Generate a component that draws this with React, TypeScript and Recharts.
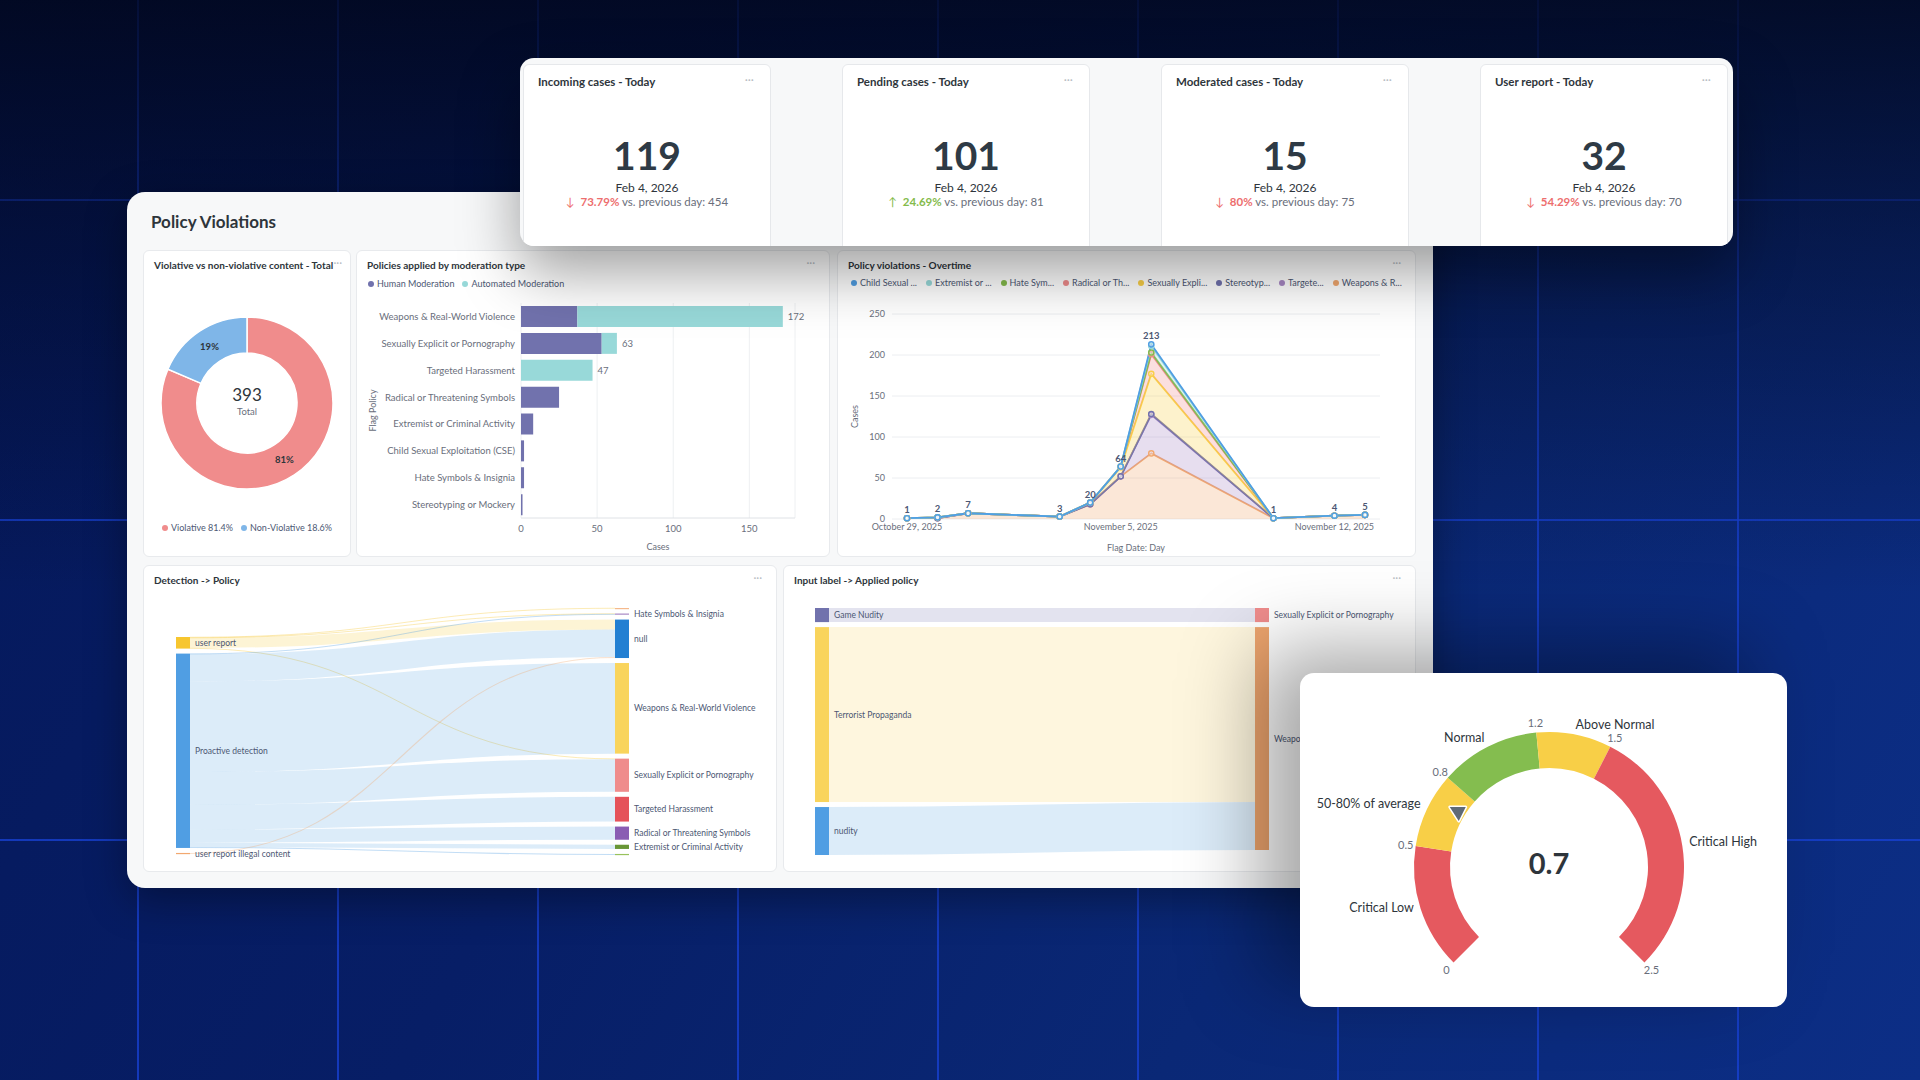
import React from 'react';
import {
  PieChart,
  Pie,
  Cell,
  BarChart,
  Bar,
  XAxis,
  YAxis,
  CartesianGrid,
  LabelList,
  AreaChart,
  Area,
  Sankey,
} from 'recharts';

const FONT = "Lato, 'Noto Sans', 'DejaVu Sans', sans-serif";
const INK = '#2e353b';
const MUTED = '#696e7b';
const LABEL = '#4c5773';
const NO_MARGIN = { top: 0, right: 0, bottom: 0, left: 0 };

// KPI tiles
const kpiTitles = ['Incoming cases - Today', 'Pending cases - Today', 'Moderated cases - Today', 'User report - Today'];
const kpiToday = [119, 101, 15, 32];
const kpiYesterday = [454, 81, 75, 70];
const kpiDate = 'Feb 4, 2026';

// Violative vs non-violative
const contentTypes = ['Violative', 'Non-Violative'];
const contentCounts = [320, 73];

// Policies by moderation type
const policies = [
  'Weapons & Real-World Violence',
  'Sexually Explicit or Pornography',
  'Targeted Harassment',
  'Radical or Threatening Symbols',
  'Extremist or Criminal Activity',
  'Child Sexual Exploitation (CSE)',
  'Hate Symbols & Insignia',
  'Stereotyping or Mockery',
];
const humanCases = [37, 53, 0, 25, 8, 2, 2, 1];
const automatedCases = [135, 10, 47, 0, 0, 0, 0, 0];
const caseTicks = [0, 50, 100, 150];

// Daily flags per policy
const flagDates = ['2025-10-29', '2025-10-30', '2025-10-31', '2025-11-03', '2025-11-04', '2025-11-05', '2025-11-06', '2025-11-10', '2025-11-12', '2025-11-13'];
const childSexualDaily = [0, 0, 0, 0, 0, 0, 2, 0, 0, 0];
const extremistDaily = [0, 0, 0, 0, 0, 0, 8, 0, 0, 0];
const hateDaily = [0, 0, 0, 0, 0, 0, 2, 0, 0, 0];
const radicalDaily = [0, 0, 0, 0, 0, 1, 24, 0, 0, 0];
const sexualDaily = [0, 1, 0, 0, 2, 11, 49, 0, 0, 0];
const stereotypingDaily = [0, 0, 0, 0, 0, 0, 1, 0, 0, 0];
const targetedDaily = [0, 0, 0, 0, 0, 0, 47, 0, 0, 0];
const weaponsDaily = [1, 1, 7, 3, 18, 52, 80, 1, 4, 5];
const dateTicks = ['2025-10-29', '2025-11-05', '2025-11-12'];
const caseAxisTicks = [0, 50, 100, 150, 200, 250];

// Detection -> Policy
const detectionSources = ['user report', 'Proactive detection', 'user report illegal content'];
const detectionTargets = [
  'Stereotyping or Mockery',
  'Hate Symbols & Insignia',
  'null',
  'Weapons & Real-World Violence',
  'Sexually Explicit or Pornography',
  'Targeted Harassment',
  'Radical or Threatening Symbols',
  'Extremist or Criminal Activity',
  'Child Sexual Exploitation (CSE)',
];
const detectionFlows = [
  [0, 0, 1], [0, 1, 1], [0, 2, 19], [0, 4, 1],
  [1, 1, 1], [1, 2, 52], [1, 3, 172], [1, 4, 62], [1, 5, 47], [1, 6, 25], [1, 7, 8], [1, 8, 2],
  [2, 2, 2],
];

// Input label -> Applied policy
const inputLabels = ['Game Nudity', 'Terrorist Propaganda', 'nudity'];
const appliedPolicies = ['Sexually Explicit or Pornography', 'Weapons & Real-World Violence'];
const labelFlows = [[0, 0, 5], [1, 1, 62], [2, 1, 17]];

// Gauge
const gaugeBands = ['Critical Low', '50-80% of average', 'Normal', 'Above Normal', 'Critical High'];
const gaugeStops = [0, 0.5, 0.8, 1.2, 1.5, 2.5];
const gaugeValue = 0.7;

// colours
const contentColors = ['#f08c8c', '#7fb6e8'];
const HUMAN = '#7172ad';
const AUTO = '#98d9d9';
const seriesColors: Record<string, string> = {
  child: '#509ee3',
  extremist: '#98d9d9',
  hate: '#84bb4c',
  radical: '#ef8c8c',
  sexual: '#f9cf48',
  stereotyping: '#7172ad',
  targeted: '#a989c5',
  weapons: '#f2a86f',
};
const nodeColors: Record<string, string> = {
  'user report': '#f7c62f',
  'Proactive detection': '#509ee3',
  'user report illegal content': '#f2a86f',
  'Stereotyping or Mockery': '#f5b98c',
  'Hate Symbols & Insignia': '#a989c5',
  null: '#227fd2',
  'Weapons & Real-World Violence': '#f9d45c',
  'Sexually Explicit or Pornography': '#ef8c8c',
  'Targeted Harassment': '#e5525a',
  'Radical or Threatening Symbols': '#8a5db3',
  'Extremist or Criminal Activity': '#689636',
  'Child Sexual Exploitation (CSE)': '#98c25c',
  'Game Nudity': '#7172ad',
  'Terrorist Propaganda': '#f9d45c',
  nudity: '#509ee3',
};
const appliedColors: Record<string, string> = {
  'Sexually Explicit or Pornography': '#ef8c8c',
  'Weapons & Real-World Violence': '#eea56e',
};
const gaugeColors = ['#e5595f', '#f8cf47', '#84bd4f', '#f8cf47', '#e5595f'];

const RAD = Math.PI / 180;
const polar = (cx: number, cy: number, r: number, deg: number) => ({
  x: cx + r * Math.cos(-deg * RAD),
  y: cy + r * Math.sin(-deg * RAD),
});

const changePct = (today: number, prev: number) =>
  `${parseFloat(Math.abs(((today - prev) / prev) * 100).toFixed(2))}%`;

// ---------- KPI strip ----------
function KpiCard({ title, today, prev }: any) {
  const up = today >= prev;
  const tone = up ? '#84bb4c' : '#ed6e6e';
  const line: React.CSSProperties = { position: 'absolute', left: 0, right: 0, textAlign: 'center' };
  return (
    <div
      style={{
        position: 'relative',
        width: 248,
        height: 190,
        flexShrink: 0,
        background: '#fff',
        border: '1px solid #e6e8eb',
        borderRadius: 6,
        boxSizing: 'border-box',
      }}
    >
      <div style={{ position: 'absolute', left: 14, top: 9, fontSize: 11.5, fontWeight: 700, color: INK, lineHeight: '16px' }}>
        {title}
      </div>
      <div style={{ position: 'absolute', right: 16, top: 7, fontSize: 12, color: '#b8bcc3', lineHeight: '16px' }}>···</div>
      <div style={{ ...line, top: 67, fontSize: 39, fontWeight: 700, color: '#2e3a45', lineHeight: '46px' }}>{today}</div>
      <div style={{ ...line, top: 115, fontSize: 12, color: INK, lineHeight: '16px' }}>{kpiDate}</div>
      <div style={{ ...line, top: 129, fontSize: 11.5, lineHeight: '16px', color: MUTED }}>
        <span style={{ color: tone, marginRight: 6 }}>{up ? '↑' : '↓'}</span>
        <span style={{ color: tone, fontWeight: 700 }}>{changePct(today, prev)}</span> vs. previous day: {prev}
      </div>
    </div>
  );
}

function KpiStrip() {
  return (
    <div
      style={{
        position: 'absolute',
        left: 520,
        top: 58,
        width: 1213,
        height: 188,
        background: '#f7f8f9',
        borderRadius: 14,
        overflow: 'hidden',
        boxShadow: '0 26px 60px rgba(0,0,0,0.38)',
        display: 'flex',
        gap: 71,
        paddingLeft: 3,
        paddingTop: 6,
        boxSizing: 'border-box',
      }}
    >
      {kpiTitles.map((t, i) => (
        <KpiCard key={t} title={t} today={kpiToday[i]} prev={kpiYesterday[i]} />
      ))}
    </div>
  );
}

// ---------- shared bits ----------
function Panel({ left, top, width, height, title, dotsRight = 14, children }: any) {
  return (
    <div
      style={{
        position: 'absolute',
        left,
        top,
        width,
        height,
        background: '#fff',
        border: '1px solid #e8eaed',
        borderRadius: 6,
        boxSizing: 'border-box',
        overflow: 'hidden',
      }}
    >
      <div style={{ position: 'absolute', left: 10, top: 7, fontSize: 10, fontWeight: 700, color: INK, lineHeight: '14px', whiteSpace: 'nowrap' }}>
        {title}
      </div>
      <div style={{ position: 'absolute', right: dotsRight, top: 5, fontSize: 11, color: '#b8bcc3', lineHeight: '14px' }}>···</div>
      {children}
    </div>
  );
}

function LegendRow({ items, style, fontSize = 9.5, gap = 9 }: any) {
  return (
    <div style={{ position: 'absolute', display: 'flex', alignItems: 'center', gap, fontSize, color: LABEL, whiteSpace: 'nowrap', ...style }}>
      {items.map((it: any) => (
        <span key={it.label} style={{ display: 'flex', alignItems: 'center', gap: 3 }}>
          <span style={{ width: 6, height: 6, borderRadius: 3, background: it.color, display: 'inline-block' }} />
          {it.label}
        </span>
      ))}
    </div>
  );
}

// ---------- donut ----------
const donutData = contentTypes.map((name, i) => ({ name, value: contentCounts[i] }));
const contentTotal = contentCounts.reduce((a, b) => a + b, 0);

const renderDonutLabel = (p: any) => {
  const r = (p.innerRadius + p.outerRadius) / 2;
  const pt = polar(p.cx, p.cy, r, p.midAngle);
  return (
    <text x={pt.x} y={pt.y} textAnchor="middle" dominantBaseline="central" fontSize={9.5} fontWeight={700} fill={INK}>
      {Math.round(p.percent * 100)}%
    </text>
  );
};

function DonutPanel() {
  return (
    <Panel left={16} top={58} width={208} height={307} title="Violative vs non-violative content - Total" dotsRight={8}>
      <div style={{ position: 'absolute', left: 0, top: 29 }}>
        <PieChart width={208} height={240} margin={NO_MARGIN}>
          <Pie
            data={donutData}
            dataKey="value"
            cx={103}
            cy={123}
            innerRadius={50}
            outerRadius={86}
            startAngle={90}
            endAngle={-270}
            stroke="#fff"
            strokeWidth={1.5}
            labelLine={false}
            label={renderDonutLabel}
            isAnimationActive={false}
          >
            {donutData.map((d, i) => (
              <Cell key={d.name} fill={contentColors[i]} />
            ))}
          </Pie>
        </PieChart>
      </div>
      <div style={{ position: 'absolute', left: 0, width: 206, top: 134, textAlign: 'center', fontSize: 17, color: INK, lineHeight: '20px' }}>
        {contentTotal}
      </div>
      <div style={{ position: 'absolute', left: 0, width: 206, top: 155, textAlign: 'center', fontSize: 9.5, color: MUTED, lineHeight: '12px' }}>
        Total
      </div>
      <LegendRow
        style={{ left: 0, right: 0, top: 271, justifyContent: 'center' }}
        fontSize={9}
        gap={8}
        items={contentTypes.map((t, i) => ({
          label: `${t} ${((contentCounts[i] / contentTotal) * 100).toFixed(1)}%`,
          color: contentColors[i],
        }))}
      />
    </Panel>
  );
}

// ---------- bars ----------
const policyRows = policies.map((policy, i) => ({
  policy,
  human: humanCases[i],
  automated: automatedCases[i],
  total: humanCases[i] + automatedCases[i],
}));

// single-line category ticks (the default tick wraps long names)
const renderPolicyTick = (p: any) => (
  <text x={p.x} y={p.y} textAnchor="end" dominantBaseline="central" fontSize={9.5} fill={MUTED}>
    {p.payload.value}
  </text>
);

function BarPanel() {
  const tick = { fontSize: 9.5, fill: MUTED };
  return (
    <Panel left={229} top={58} width={474} height={307} title="Policies applied by moderation type">
      <LegendRow
        style={{ left: 11, top: 27 }}
        fontSize={9}
        gap={8}
        items={[
          { label: 'Human Moderation', color: HUMAN },
          { label: 'Automated Moderation', color: AUTO },
        ]}
      />
      <div style={{ position: 'absolute', left: 0, top: 44 }}>
        <BarChart layout="vertical" width={474} height={259} data={policyRows} margin={{ top: 8, right: 36, left: 0, bottom: 0 }} barSize={21}>
          <CartesianGrid horizontal={false} stroke="#eef0f2" />
          <XAxis
            type="number"
            domain={[0, 180]}
            ticks={caseTicks}
            tickLine={false}
            axisLine={{ stroke: '#dfe2e6' }}
            tickSize={0}
            tickMargin={7}
            height={36}
            tick={tick}
            label={{ value: 'Cases', position: 'insideBottom', offset: 4, fontSize: 9, fill: MUTED }}
          />
          <YAxis
            type="category"
            dataKey="policy"
            width={164}
            interval={0}
            tickLine={false}
            axisLine={false}
            tickSize={0}
            tickMargin={6}
            tick={renderPolicyTick}
            label={{ value: 'Flag Policy', angle: -90, position: 'insideLeft', offset: 16, fontSize: 9, fill: MUTED, style: { textAnchor: 'middle' } }}
          />
          <Bar dataKey="human" stackId="mod" fill={HUMAN} isAnimationActive={false} />
          <Bar dataKey="automated" stackId="mod" fill={AUTO} isAnimationActive={false}>
            <LabelList dataKey="total" position="right" offset={5} fontSize={9.5} fill={MUTED} />
          </Bar>
        </BarChart>
      </div>
    </Panel>
  );
}

// ---------- stacked area ----------
const DAY_MS = 86400000;
const dayOf = (iso: string) => Math.round((Date.parse(iso) - Date.parse(flagDates[0])) / DAY_MS);
const dateLabel = (day: number) =>
  new Date(Date.parse(flagDates[0]) + day * DAY_MS).toLocaleDateString('en-US', {
    month: 'long',
    day: 'numeric',
    year: 'numeric',
    timeZone: 'UTC',
  });

// legend order; stacking goes the other way round
const violationSeries = [
  { key: 'child', legend: 'Child Sexual ...', values: childSexualDaily },
  { key: 'extremist', legend: 'Extremist or ...', values: extremistDaily },
  { key: 'hate', legend: 'Hate Sym...', values: hateDaily },
  { key: 'radical', legend: 'Radical or Th...', values: radicalDaily },
  { key: 'sexual', legend: 'Sexually Expli...', values: sexualDaily },
  { key: 'stereotyping', legend: 'Stereotyp...', values: stereotypingDaily },
  { key: 'targeted', legend: 'Targete...', values: targetedDaily },
  { key: 'weapons', legend: 'Weapons & R...', values: weaponsDaily },
];
const stackOrder = [...violationSeries].reverse();

const timeline = flagDates.map((d, i) => {
  const row: any = { day: dayOf(d), total: 0 };
  violationSeries.forEach((s) => {
    row[s.key] = s.values[i];
    row.total += s.values[i];
  });
  return row;
});

function AreaPanel() {
  const tick = { fontSize: 9, fill: MUTED };
  const lastDay = dayOf(flagDates[flagDates.length - 1]);
  return (
    <Panel left={710} top={58} width={579} height={307} title="Policy violations - Overtime">
      <LegendRow
        style={{ left: 13, top: 26 }}
        fontSize={9}
        gap={9}
        items={violationSeries.map((s) => ({ label: s.legend, color: seriesColors[s.key] }))}
      />
      <div style={{ position: 'absolute', left: 0, top: 49 }}>
        <AreaChart width={579} height={255} data={timeline} margin={{ top: 14, right: 37, left: 0, bottom: 0 }}>
          <CartesianGrid vertical={false} stroke="#eceef1" />
          <XAxis
            type="number"
            dataKey="day"
            domain={[0, lastDay]}
            ticks={dateTicks.map(dayOf)}
            tickFormatter={dateLabel}
            padding={{ left: 15, right: 15 }}
            axisLine={false}
            tickLine={false}
            tickSize={0}
            tickMargin={5}
            height={36}
            tick={tick}
            label={{ value: 'Flag Date: Day', position: 'insideBottom', offset: 4, fontSize: 9, fill: MUTED }}
          />
          <YAxis
            domain={[0, 250]}
            ticks={caseAxisTicks}
            width={54}
            axisLine={false}
            tickLine={false}
            tickSize={0}
            tickMargin={7}
            tick={tick}
            label={{ value: 'Cases', angle: -90, position: 'insideLeft', offset: 17, fontSize: 9, fill: MUTED, style: { textAnchor: 'middle' } }}
          />
          {stackOrder.map((s, i) => (
            <Area
              key={s.key}
              dataKey={s.key}
              stackId="flags"
              type="linear"
              stroke={seriesColors[s.key]}
              strokeWidth={1.8}
              fill={seriesColors[s.key]}
              fillOpacity={0.28}
              dot={{ r: 2.6, fill: '#fff', stroke: seriesColors[s.key], strokeWidth: 1.4 }}
              activeDot={false}
              isAnimationActive={false}
            >
              {i === stackOrder.length - 1 && (
                <LabelList dataKey="total" position="top" offset={5} fontSize={9.5} fontWeight={700} fill={LABEL} />
              )}
            </Area>
          ))}
        </AreaChart>
      </div>
    </Panel>
  );
}

// ---------- sankeys ----------
function FlowChart({ sources, targets, flows, width, margin, shift = 0, hidden = [], targetColors = {} }: any) {
  const data = {
    nodes: [...sources, ...targets].map((name: string) => ({ name })),
    links: flows.map(([s, t, v]: number[]) => ({ source: s, target: sources.length + t, value: v })),
  };
  const colourOf = (name: string, depth: number) => (depth > 0 && targetColors[name]) || nodeColors[name];

  const renderNode = (p: any) => {
    const { x, y, width: w, height: h, payload } = p;
    const dy = payload.depth === 0 ? shift : 0;
    const hh = Math.max(h, 1.2);
    return (
      <g>
        <rect x={x} y={y + dy} width={w} height={hh} fill={colourOf(payload.name, payload.depth)} />
        {!hidden.includes(payload.name) && (
          <text x={x + w + 5} y={y + dy + hh / 2} dominantBaseline="central" fontSize={8.5} fill={LABEL}>
            {payload.name}
          </text>
        )}
      </g>
    );
  };

  const renderLink = (p: any) => {
    const { sourceX, targetX, sourceY, targetY, sourceControlX, targetControlX, linkWidth, payload } = p;
    const sy = sourceY + shift;
    const thin = linkWidth < 1.5;
    return (
      <path
        d={`M${sourceX},${sy} C${sourceControlX},${sy} ${targetControlX},${targetY} ${targetX},${targetY}`}
        fill="none"
        stroke={nodeColors[payload.source.name]}
        strokeOpacity={thin ? 0.35 : 0.2}
        strokeWidth={Math.max(linkWidth, 1)}
      />
    );
  };

  return (
    <Sankey
      width={width}
      height={307}
      data={data}
      nodeWidth={14}
      nodePadding={5}
      iterations={0}
      sort={false}
      margin={margin}
      node={renderNode}
      link={renderLink}
    />
  );
}

function DetectionPanel() {
  return (
    <Panel left={16} top={373} width={634} height={307} title="Detection -> Policy">
      <div style={{ position: 'absolute', left: 0, top: 0 }}>
        <FlowChart
          sources={detectionSources}
          targets={detectionTargets}
          flows={detectionFlows}
          width={634}
          margin={{ top: 42, right: 149, bottom: 18, left: 32 }}
          shift={29}
          hidden={['Stereotyping or Mockery', 'Child Sexual Exploitation (CSE)']}
        />
      </div>
    </Panel>
  );
}

function InputLabelPanel() {
  return (
    <Panel left={656} top={373} width={633} height={307} title="Input label -> Applied policy">
      <div style={{ position: 'absolute', left: 0, top: 0 }}>
        <FlowChart
          sources={inputLabels}
          targets={appliedPolicies}
          flows={labelFlows}
          width={633}
          margin={{ top: 42, right: 148, bottom: 18, left: 31 }}
          targetColors={appliedColors}
        />
      </div>
    </Panel>
  );
}

function PolicyCard() {
  return (
    <div
      style={{
        position: 'absolute',
        left: 127,
        top: 192,
        width: 1306,
        height: 696,
        background: '#f7f8f9',
        borderRadius: 18,
        boxShadow: '0 12px 40px rgba(0,0,0,0.35)',
      }}
    >
      <div style={{ position: 'absolute', left: 24, top: 19, fontSize: 17, fontWeight: 700, color: INK, lineHeight: '22px' }}>
        Policy Violations
      </div>
      <DonutPanel />
      <BarPanel />
      <AreaPanel />
      <DetectionPanel />
      <InputLabelPanel />
    </div>
  );
}

// ---------- gauge ----------
const gaugeData = gaugeBands.map((name, i) => ({ name, size: gaugeStops[i + 1] - gaugeStops[i] }));
const gaugeMax = gaugeStops[gaugeStops.length - 1];
const pointerData = [{ v: gaugeValue }, { v: gaugeMax - gaugeValue }];

const renderGaugeLabel = (p: any) => {
  const { cx, cy, outerRadius, midAngle, startAngle, endAngle, index } = p;
  const mid = polar(cx, cy, outerRadius + 7, midAngle);
  const anchor = mid.x < cx - 2 ? 'end' : 'start';
  const t0 = polar(cx, cy, outerRadius + 10, startAngle);
  const t1 = polar(cx, cy, outerRadius + 10, endAngle);
  const last = index === gaugeBands.length - 1;
  return (
    <g>
      <text x={mid.x} y={mid.y - 3} textAnchor={anchor} dominantBaseline="central" fontSize={12.5} fill={INK}>
        {gaugeBands[index]}
      </text>
      <text x={t0.x} y={t0.y} textAnchor="middle" dominantBaseline="central" fontSize={11} fill={MUTED}>
        {gaugeStops[index]}
      </text>
      {last && (
        <text x={t1.x} y={t1.y} textAnchor="middle" dominantBaseline="central" fontSize={11} fill={MUTED}>
          {gaugeStops[index + 1]}
        </text>
      )}
    </g>
  );
};

const renderPointer = (p: any) => {
  if (p.index !== 0) return null;
  const c = polar(p.cx, p.cy, 106, p.endAngle);
  const d = `M${c.x - 8},${c.y - 6} L${c.x + 8},${c.y - 6} L${c.x + 1},${c.y + 8} Z`;
  return <path d={d} fill="#5f6a76" stroke="#fff" strokeWidth={3} paintOrder="stroke" strokeLinejoin="round" />;
};

function GaugeCard() {
  return (
    <div
      style={{
        position: 'absolute',
        left: 1300,
        top: 673,
        width: 487,
        height: 334,
        background: '#fff',
        borderRadius: 14,
        boxShadow: '-40px -24px 80px rgba(0,0,0,0.35)',
      }}
    >
      <PieChart width={487} height={334} margin={NO_MARGIN}>
        <Pie
          data={gaugeData}
          dataKey="size"
          cx={249}
          cy={194}
          innerRadius={99}
          outerRadius={135}
          startAngle={225}
          endAngle={-45}
          stroke="none"
          labelLine={false}
          label={renderGaugeLabel}
          isAnimationActive={false}
        >
          {gaugeData.map((d, i) => (
            <Cell key={d.name} fill={gaugeColors[i]} />
          ))}
        </Pie>
        <Pie
          data={pointerData}
          dataKey="v"
          cx={249}
          cy={194}
          innerRadius={99}
          outerRadius={135}
          startAngle={225}
          endAngle={-45}
          fill="none"
          stroke="none"
          labelLine={false}
          label={renderPointer}
          isAnimationActive={false}
        />
      </PieChart>
      <div style={{ position: 'absolute', left: 149, width: 200, top: 172, textAlign: 'center', fontSize: 29, fontWeight: 700, color: INK, lineHeight: '36px' }}>
        {gaugeValue}
      </div>
    </div>
  );
}

const pageBackground = [
  'linear-gradient(180deg, rgba(1,5,22,0.8) 0%, rgba(1,5,22,0.45) 22%, rgba(1,5,22,0) 55%)',
  'repeating-linear-gradient(90deg, transparent 0px, transparent 137px, rgba(24,66,215,0.75) 137px, rgba(24,66,215,0.75) 139px, transparent 139px, transparent 200px)',
  'repeating-linear-gradient(180deg, transparent 0px, transparent 199px, rgba(24,66,215,0.75) 199px, rgba(24,66,215,0.75) 201px, transparent 201px, transparent 320px)',
  'linear-gradient(120deg, #05185a 0%, #071e66 40%, #0a2876 70%, #0c2e86 100%)',
].join(', ');

export default function App() {
  return (
    <div
      style={{
        position: 'absolute',
        left: 0,
        top: 0,
        width: 1920,
        height: 1080,
        overflow: 'hidden',
        fontFamily: FONT,
        background: pageBackground,
      }}
    >
      <PolicyCard />
      <KpiStrip />
      <GaugeCard />
    </div>
  );
}
